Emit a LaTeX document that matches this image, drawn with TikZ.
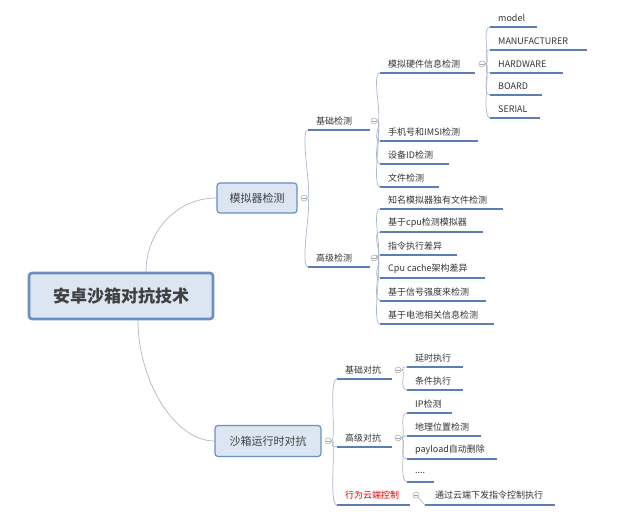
\documentclass[tikz,border=0pt]{standalone}
\usepackage{fontspec}
\setmainfont{Noto Sans CJK SC}
\begin{document}
\begin{tikzpicture}[x=1pt,y=1pt,
  leaf/.style={inner sep=0pt,font=\fontsize{9}{10}\selectfont,text=black!80},
  ul/.style={draw=ulc,line width=1.6pt},
  br/.style={draw=brc,line width=0.7pt},
  tog/.style={circle,draw=gray!70,fill=white,minimum size=6pt,inner sep=0pt,line width=0.5pt,
    path picture={\draw[gray!70,line width=0.5pt] ([xshift=-1.6pt]path picture bounding box.center)--([xshift=1.6pt]path picture bounding box.center);}},
  box/.style={draw=boxb,fill=boxf,rounded corners=3pt,line width=1.2pt}]
\definecolor{ulc}{HTML}{5B7FB5}
\definecolor{brc}{HTML}{A9B8CC}
\definecolor{boxb}{HTML}{6A8EC2}
\definecolor{boxf}{HTML}{DCE6F2}
\useasboundingbox (0,0) rectangle (640,-529);
\newcommand{\lf}[5]{%
  \coordinate (#1L) at (#2,-#4-9);
  \coordinate (#1R) at (#3,-#4-9);
  \node[leaf,anchor=west] (#1) at (#2+8,-#4) {#5};
  \draw[ul] (#1L)--(#1R);}
\newcommand{\edge}[2]{\draw[br] (#1) .. controls +(9,0) and +(-9,0) .. (#2);}
% root
\node[box,line width=2.6pt,minimum width=184pt,minimum height=46pt,font=\fontsize{17}{20}\selectfont\bfseries,text=black!75] (root) at (121,-296) {安卓沙箱对抗技术};
\node[box,minimum width=80pt,minimum height=30pt,font=\fontsize{11}{13}\selectfont,text=black!75] (emu) at (257,-198) {模拟器检测};
\node[box,minimum width=106pt,minimum height=31pt,font=\fontsize{11}{13}\selectfont,text=black!75] (sbx) at (268,-441) {沙箱运行时对抗};
\draw[br] ([xshift=25pt]root.north) .. controls +(0,40) and +(-40,0) .. (emu.west);
\draw[br] ([xshift=17pt]root.south) .. controls +(0,-60) and +(-40,0) .. (sbx.west);
\node[tog] (emuT) at (304,-198) {};
\node[tog] (sbxT) at (328,-441) {};
% level 2 top
\lf{jc}{308}{370}{121}{基础检测}
\lf{gj}{308}{370}{258}{高级检测}
\node[tog] (jcT) at (374,-121) {};
\node[tog] (gjT) at (374,-258) {};
\edge{emuT}{jcL} \edge{emuT}{gjL}
% basic detection children
\lf{mn}{380}{475}{64}{模拟硬件信息检测}
\lf{sj}{380}{478}{132}{手机号和IMSI检测}
\lf{sb}{380}{449}{155}{设备ID检测}
\lf{wj}{380}{439}{178}{文件检测}
\node[tog] (mnT) at (482,-64) {};
\edge{jcT}{mnL} \edge{jcT}{sjL} \edge{jcT}{sbL} \edge{jcT}{wjL}
\lf{mo}{490}{537}{18}{model}
\lf{ma}{490}{587}{41}{MANUFACTURER}
\lf{ha}{490}{563}{64}{HARDWARE}
\lf{bo}{490}{542}{86}{BOARD}
\lf{se}{490}{540}{109}{SERIAL}
\edge{mnT}{moL} \edge{mnT}{maL} \edge{mnT}{haL} \edge{mnT}{boL} \edge{mnT}{seL}
% advanced detection children
\lf{zm}{380}{503}{200}{知名模拟器独有文件检测}
\lf{cp}{380}{483}{223}{基于cpu检测模拟器}
\lf{zl}{380}{457}{246}{指令执行差异}
\lf{cc}{380}{485}{269}{Cpu cache架构差异}
\lf{xh}{380}{486}{292}{基于信号强度来检测}
\lf{dc}{380}{494}{315}{基于电池相关信息检测}
\edge{gjT}{zmL} \edge{gjT}{cpL} \edge{gjT}{zlL} \edge{gjT}{ccL} \edge{gjT}{xhL} \edge{gjT}{dcL}
% sandbox
\lf{jd}{337}{392}{370}{基础对抗}
\lf{gd}{337}{392}{438}{高级对抗}
\coordinate (xwL) at (337,-505); \coordinate (xwR) at (410,-505);
\node[leaf,anchor=west,text=red!85!black] (xw) at (345,-495) {行为云端控制};
\draw[ul] (xwL)--(xwR);
\node[tog] (jdT) at (398,-370) {};
\node[tog] (gdT) at (398,-438) {};
\node[tog] (xwT) at (416,-495) {};
\edge{sbxT}{jdL} \edge{sbxT}{gdL} \edge{sbxT}{xwL}
\lf{ys}{407}{463}{358}{延时执行}
\lf{tj}{407}{463}{381}{条件执行}
\lf{ip}{407}{452}{404}{IP检测}
\lf{dl}{407}{481}{427}{地理位置检测}
\lf{pl}{407}{497}{450}{payload自动删除}
\lf{dt}{407}{434}{473}{....}
\edge{jdT}{ysL} \edge{jdT}{tjL}
\edge{gdT}{ipL} \edge{gdT}{dlL} \edge{gdT}{plL} \edge{gdT}{dtL}
\coordinate (tgL) at (425,-505); \coordinate (tgR) at (555,-505);
\node[leaf,anchor=west] (tg) at (435,-495) {通过云端下发指令控制执行};
\draw[ul] (tgL)--(tgR);
\draw[br] (xwT)--(tgL);
\end{tikzpicture}
\end{document}
